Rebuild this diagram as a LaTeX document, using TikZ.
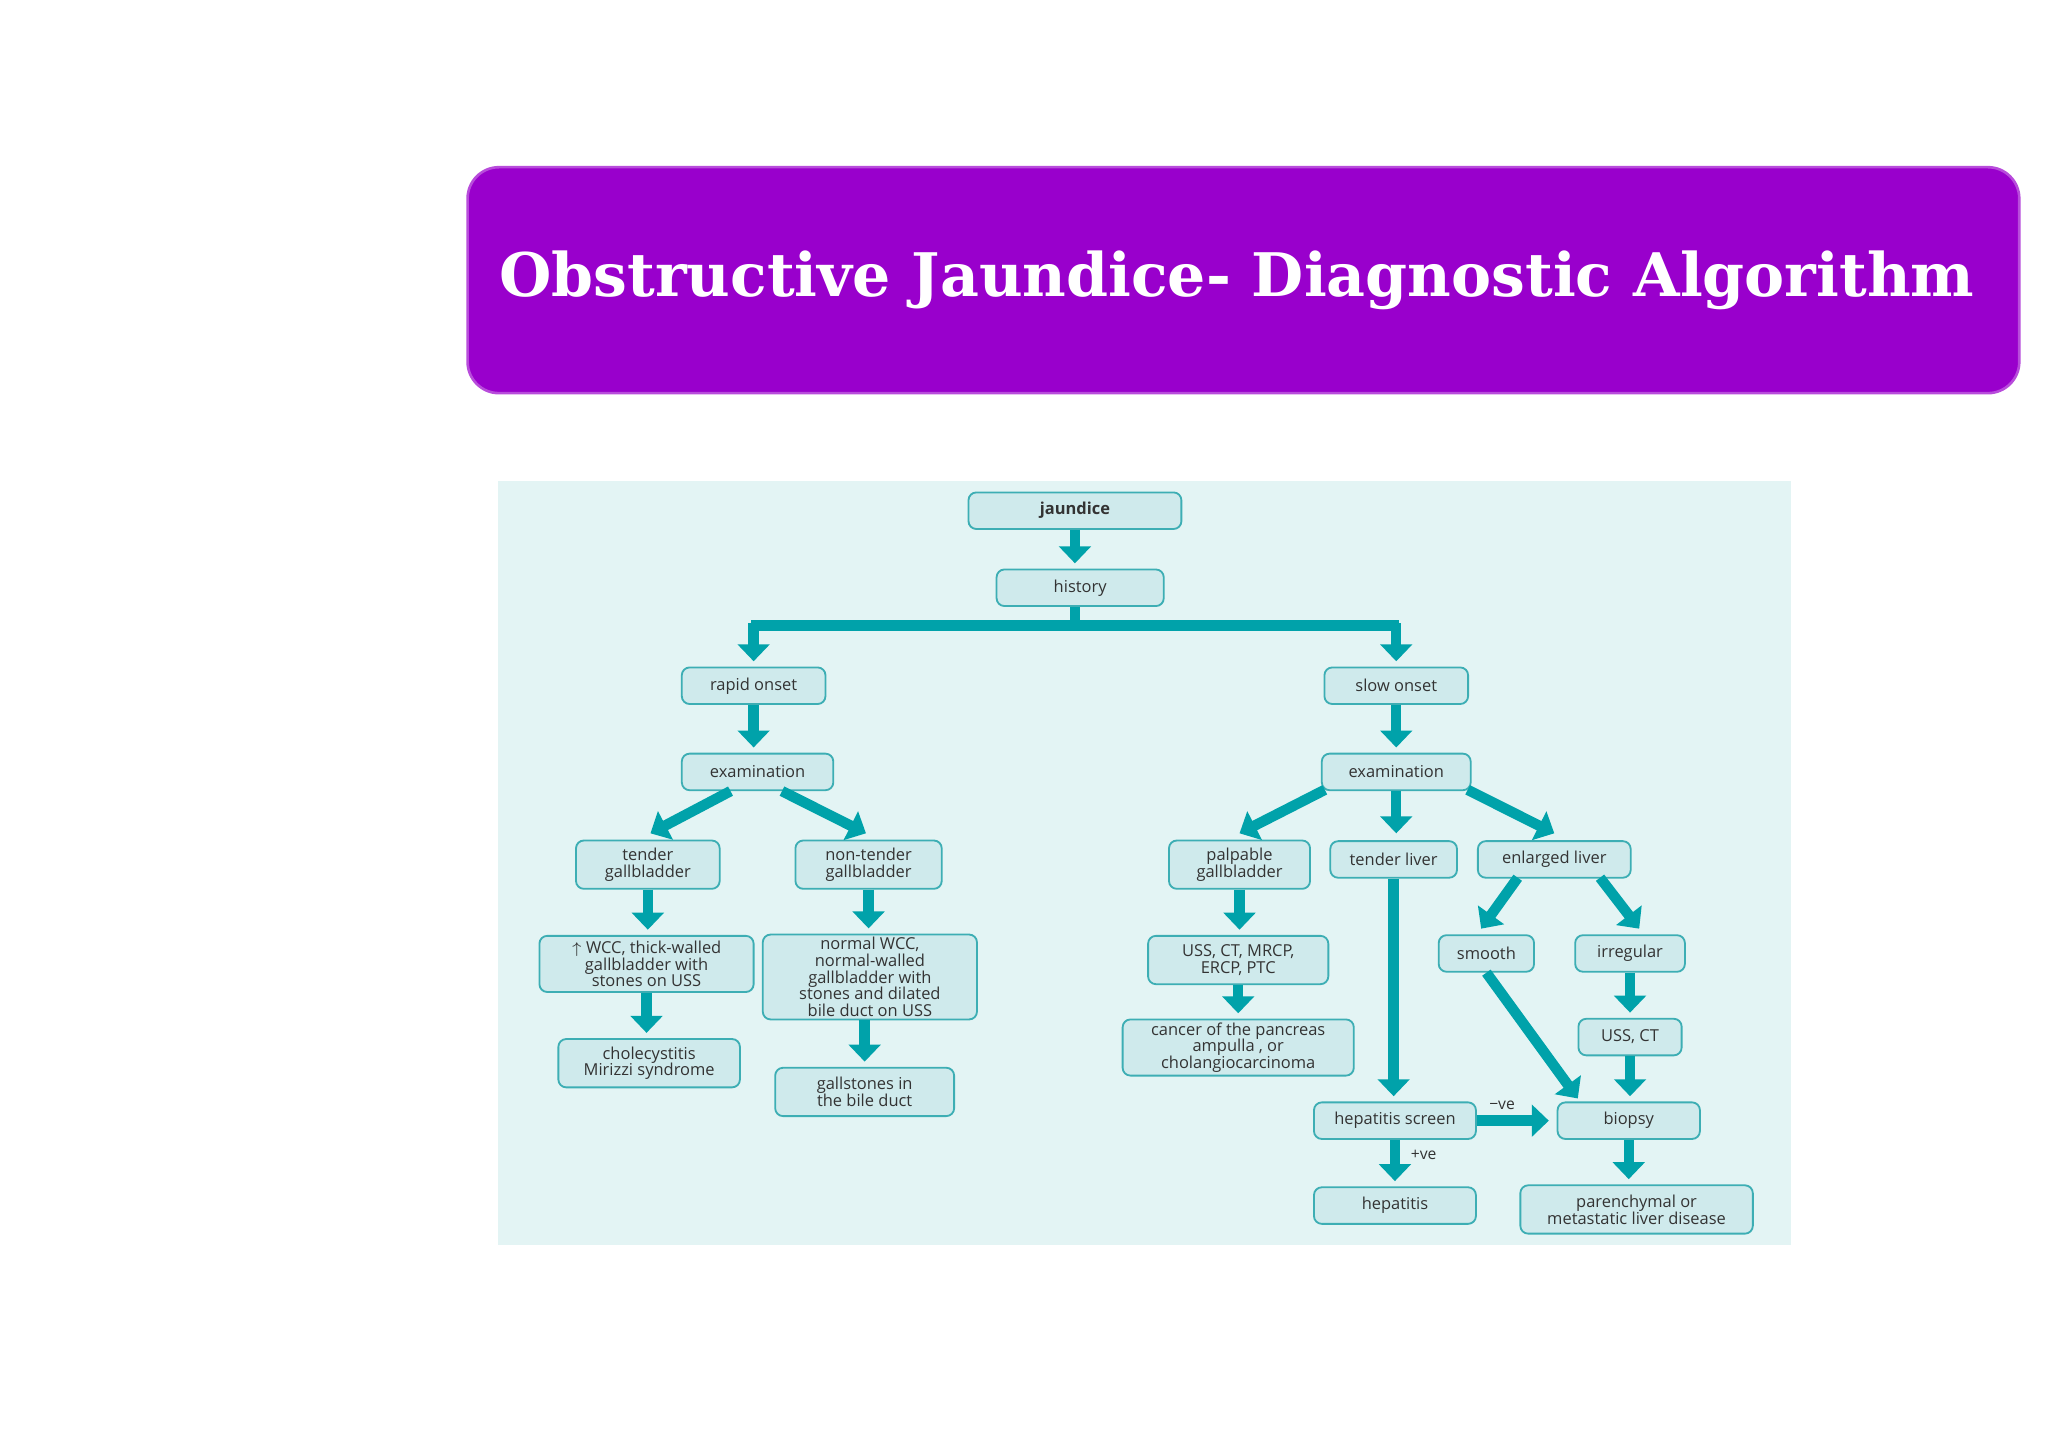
\documentclass[tikz,border=0pt]{standalone}
\usepackage{fontspec}
\setmainfont{Open Sans}
\newfontfamily\titlefont{DejaVu Serif}
\usetikzlibrary{arrows.meta}
\definecolor{teal1}{HTML}{00A2AA}
\definecolor{boxfill}{HTML}{CFEAEC}
\definecolor{boxline}{HTML}{3DAEB4}
\definecolor{panel}{HTML}{E3F4F4}
\definecolor{purp}{HTML}{9900CC}
\tikzset{
 box/.style={draw=boxline,fill=boxfill,line width=0.7pt,rounded corners=3pt,align=center,font=\fontsize{6.3}{6.4}\selectfont,text=black!80,inner sep=1pt},
 arr/.style={draw=teal1,line width=4pt,-{Triangle[width=12pt,length=6.5pt]}},
 lbl/.style={font=\fontsize{6}{7}\selectfont,text=black!80,inner sep=0pt}
}
\begin{document}
\begin{tikzpicture}[x=0.5pt,y=-0.5pt]
\useasboundingbox (0,0) rectangle (1568,1108.6);
\fill[white] (0,0) rectangle (1568,1108.6);
\fill[purp,rounded corners=12pt,draw=purp!70!white,line width=1pt] (358,128) rectangle (1546,301);
\node[text=white,font=\titlefont\bfseries\fontsize{23}{26}\selectfont] (title) at (947,215) {Obstructive Jaundice- Diagnostic Algorithm};
\fill[panel] (381,368) rectangle (1371,953);
\node[box,minimum width=81.5pt,minimum height=14pt,font=\fontsize{6.3}{6.4}\selectfont\bfseries] (j) at (823,391) {jaundice};
\node[box,minimum width=64pt,minimum height=14pt] (h) at (827,450) {history};
\node[box,minimum width=55pt,minimum height=14pt] (ro) at (577,525) {rapid onset};
\node[box,minimum width=55pt,minimum height=14pt] (so) at (1069,525) {slow onset};
\node[box,minimum width=58pt,minimum height=14pt] (el) at (580,591) {examination};
\node[box,minimum width=57pt,minimum height=14pt] (er) at (1069,591) {examination};
\node[box,minimum width=55pt,minimum height=18.5pt] (tg) at (496,662) {tender\\gallbladder};
\node[box,minimum width=56pt,minimum height=18.5pt] (ng) at (665,662) {non-tender\\gallbladder};
\node[box,minimum width=82pt,minimum height=21.5pt] (wcc) at (495,738) {$\uparrow$ WCC, thick-walled\\gallbladder with\\stones on USS};
\node[box,minimum width=82pt,minimum height=32.5pt] (nw) at (666,748) {normal WCC,\\normal-walled\\gallbladder with\\stones and dilated\\bile duct on USS};
\node[box,minimum width=69.5pt,minimum height=18.5pt] (ch) at (497,814) {cholecystitis\\Mirizzi syndrome};
\node[box,minimum width=68.5pt,minimum height=18.5pt] (gs) at (662,836) {gallstones in\\the bile duct};
\node[box,minimum width=54pt,minimum height=18.5pt] (pg) at (949,662) {palpable\\gallbladder};
\node[box,minimum width=48.5pt,minimum height=14pt] (tl) at (1067,658) {tender liver};
\node[box,minimum width=58.5pt,minimum height=14pt] (enl) at (1190,658) {enlarged liver};
\node[box,minimum width=69pt,minimum height=18.5pt] (uss) at (948,735) {USS, CT, MRCP,\\ERCP, PTC};
\node[box,minimum width=88.5pt,minimum height=21.5pt] (ca) at (948,802) {cancer of the pancreas\\ampulla , or\\cholangiocarcinoma};
\node[box,minimum width=36.5pt,minimum height=14pt] (sm) at (1138,730) {smooth};
\node[box,minimum width=42pt,minimum height=14pt] (ir) at (1248,730) {irregular};
\node[box,minimum width=39.5pt,minimum height=14pt] (uc) at (1248,794) {USS, CT};
\node[box,minimum width=62pt,minimum height=14pt] (hs) at (1068,858) {hepatitis screen};
\node[box,minimum width=54.5pt,minimum height=14pt] (bi) at (1247,858) {biopsy};
\node[box,minimum width=62pt,minimum height=14pt] (hep) at (1068,923) {hepatitis};
\node[box,minimum width=89pt,minimum height=18.5pt] (par) at (1253,926) {parenchymal or\\metastatic liver disease};
% arrows
\draw[arr] (j.south) -- ([yshift=2]h.north -| j.south);
\draw[draw=teal1,line width=4pt] (h.south -| 823,0) -- (823,479);
\draw[draw=teal1,line width=4pt] (575,479) -- (1071,479);
\draw[arr] (577,477) -- ([yshift=2]ro.north);
\draw[arr] (1069,477) -- ([yshift=2]so.north);
\draw[arr] (ro.south) -- ([yshift=2]el.north -| ro.south);
\draw[arr] (so.south) -- ([yshift=2]er.north -| so.south);
\draw[arr] (el.south west) ++(38,0) -- (498,638);
\draw[arr] (el.south east) ++(-40,0) -- (663,638);
\draw[arr] (tg.south) -- ([yshift=2]wcc.north -| tg.south);
\draw[arr] (ng.south) -- ([yshift=2]nw.north -| ng.south);
\draw[arr] (wcc.south) -- ([yshift=2]ch.north -| wcc.south);
\draw[arr] (nw.south -| gs.north) -- ([yshift=2]gs.north);
\draw[arr] (er.south west) ++(3,-1) -- (949,638);
\draw[arr] (er.south) -- (1069,638);
\draw[arr] (er.south east) ++(-3,-1) -- (1190,638);
\draw[arr] (pg.south) -- ([yshift=2]uss.north -| pg.south);
\draw[arr] (uss.south) -- ([yshift=2]ca.north);
\draw[arr] (1162,672) -- (1134,711);
\draw[arr] (1225,672) -- (1255,711);
\draw[arr] (ir.south) -- ([yshift=2]uc.north);
\draw[arr] (uc.south) -- ([yshift=2]bi.north -| uc.south);
\draw[arr] (sm.south) -- (1208,841);
\draw[arr] (tl.south) -- ([yshift=2]hs.north -| tl.south);
\draw[arr] (hs.east) -- ([xshift=-3]bi.west);
\draw[arr] (hs.south) -- ([yshift=2]hep.north);
\draw[arr] (bi.south) -- ([yshift=2]par.north -| bi.south);
\node[lbl] (neg) at (1150,846) {\textminus ve};
\node[lbl] (pos) at (1090,884) {+ve};
\end{tikzpicture}
\end{document}
